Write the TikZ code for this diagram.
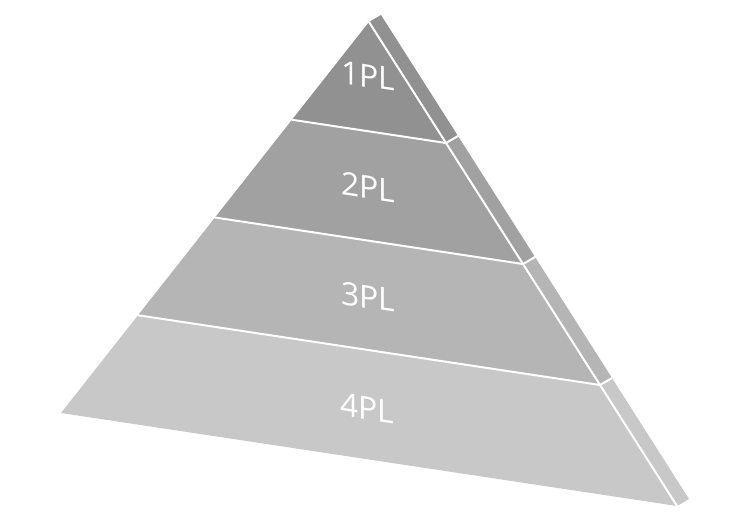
\documentclass[tikz,border=0pt]{standalone}
\usepackage{fontspec}
\setmainfont{Open Sans}
\usetikzlibrary{calc}

\definecolor{layA}{HTML}{919191}
\definecolor{layB}{HTML}{A1A1A1}
\definecolor{layC}{HTML}{B5B5B5}
\definecolor{layD}{HTML}{C8C8C8}

\begin{document}
\begin{tikzpicture}[
    x = 1bp, y = -1bp,
    sep/.style = {white, line width=2bp, line cap=round, line join=round},
    lbl/.style = {text=white, inner sep=0pt, yslant=-0.15,
                  font=\fontsize{32}{38}\selectfont}
    ]
  \useasboundingbox (0,0) rectangle (743,529);

  % corners of the front face
  \coordinate (top) at (369,22);
  \coordinate (left) at (61,413);
  \coordinate (right) at (677,506);

  % layer borders on the left and right edge
  \coordinate (l1) at ($(top)!0.25!(left)$);
  \coordinate (l2) at ($(top)!0.5!(left)$);
  \coordinate (l3) at ($(top)!0.75!(left)$);
  \coordinate (r1) at ($(top)!0.25!(right)$);
  \coordinate (r2) at ($(top)!0.5!(right)$);
  \coordinate (r3) at ($(top)!0.75!(right)$);

  % side face
  \coordinate (s0) at ($(top)+(12,-7)$);
  \coordinate (s1) at ($(r1)+(12,-7)$);
  \coordinate (s2) at ($(r2)+(12,-7)$);
  \coordinate (s3) at ($(r3)+(12,-7)$);
  \coordinate (s4) at ($(right)+(12,-7)$);

  \fill[layA] (top) -- (r1) -- (l1) -- cycle;
  \fill[layB] (l1) -- (r1) -- (r2) -- (l2) -- cycle;
  \fill[layC] (l2) -- (r2) -- (r3) -- (l3) -- cycle;
  \fill[layD] (l3) -- (r3) -- (right) -- (left) -- cycle;

  \fill[layA] (top) -- (r1) -- (s1) -- (s0) -- cycle;
  \fill[layB] (r1) -- (r2) -- (s2) -- (s1) -- cycle;
  \fill[layC] (r2) -- (r3) -- (s3) -- (s2) -- cycle;
  \fill[layD] (r3) -- (right) -- (s4) -- (s3) -- cycle;

  \draw[sep] (top) -- (right);
  \draw[sep] (l1) -- (r1) -- (s1);
  \draw[sep] (l2) -- (r2) -- (s2);
  \draw[sep] (l3) -- (r3) -- (s3);

  \node[lbl] (pl1) at (368,76) {1PL};
  \node[lbl] (pl2) at (368,187) {2PL};
  \node[lbl] (pl3) at (368,297) {3PL};
  \node[lbl] (pl4) at (367,408) {4PL};

\end{tikzpicture}
\end{document}
